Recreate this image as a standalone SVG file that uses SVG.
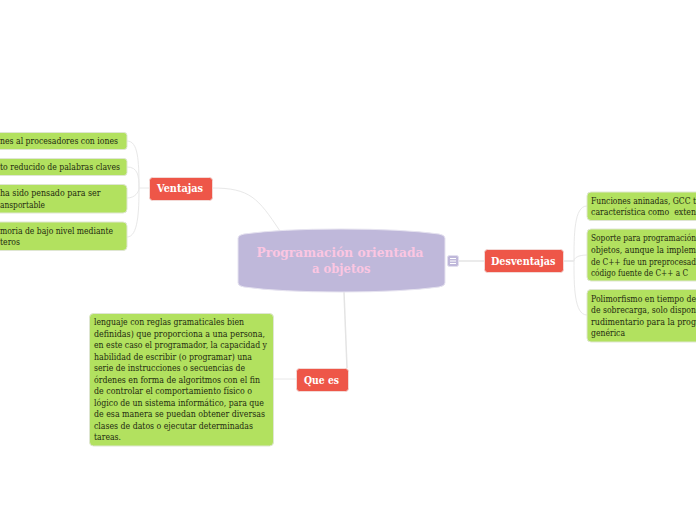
<svg xmlns="http://www.w3.org/2000/svg" width="696" height="520" viewBox="0 0 696 520">
<style>
.l{fill:#b2e15f;stroke:#dfe6d2;stroke-width:1}
.r{fill:#ee5648;stroke:#f3d9d6;stroke-width:1}
.t{font-family:"DejaVu Serif","Liberation Serif",serif;font-size:8.8px;fill:#1e2a10}
.h{font-family:"DejaVu Serif","Liberation Serif",serif;font-weight:700;font-size:10.5px;fill:#ffffff}
.c{font-family:"DejaVu Serif","Liberation Serif",serif;font-weight:700;font-size:12.5px;fill:#fbc6e2}
.k{fill:none;stroke:#e8e8e8;stroke-width:1}
.K{fill:none;stroke:#e4e4e4;stroke-width:1.5}
</style>
<rect width="696" height="520" fill="#ffffff"/>
<g id="connectors">
<path class="k" d="M212 188C250 188 258 198 280 231"/>
<path class="k" d="M149 188H139"/>
<path class="k" d="M139 188C139 160 138 141 127 141"/>
<path class="k" d="M139 188C139 176 138 167 127 167"/>
<path class="k" d="M139 188C139 192 135 198 127 198"/>
<path class="k" d="M139 188C139 212 138 237 127 237"/>
<path class="K" d="M459 261H484"/>
<path class="K" d="M564 261H574"/>
<path class="k" d="M574 261C574 235 574 206 587 206"/>
<path class="k" d="M574 261C574 258 578 255 587 255"/>
<path class="k" d="M574 261C574 285 574 315 587 315"/>
<path class="K" d="M344 292C345 320 346 345 347 368"/>
<path class="k" d="M273 379H297"/>
</g>
<g id="node-central">
<path d="M238 238Q238 235 244 234Q280 229 341 229Q402 229 439 234Q445 235 445 238V283Q445 286 439 287Q402 292 341 292Q280 292 244 287Q238 286 238 283Z" fill="#bfb8da" stroke="#e6e3f0" stroke-width="1"/>
<text class="c" x="256.5" y="257" textLength="167" lengthAdjust="spacingAndGlyphs">Programación orientada</text>
<text class="c" x="312" y="273" textLength="58.5" lengthAdjust="spacingAndGlyphs">a objetos</text>
</g>
<g id="node-toggle">
<rect x="447.500" y="255.500" width="11" height="11" rx="2" fill="#bfb8da" stroke="#e3e0ef"/>
<path d="M450 258.500H456M450 261H456M450 263.500H456" stroke="#ffffff" stroke-width="1" fill="none"/>
</g>
<g id="node-ventajas">
<rect class="r" x="149.500" y="177.500" width="63" height="23" rx="3"/>
<text class="h" x="157" y="192" textLength="46" lengthAdjust="spacingAndGlyphs">Ventajas</text>
</g>
<g id="node-desventajas">
<rect class="r" x="484.500" y="249.500" width="79" height="23" rx="3"/>
<text class="h" x="491" y="264.500" textLength="64.500" lengthAdjust="spacingAndGlyphs">Desventajas</text>
</g>
<g id="node-quees">
<rect class="r" x="296.500" y="368.500" width="52" height="23" rx="3"/>
<text class="h" x="304" y="383.500" textLength="35" lengthAdjust="spacingAndGlyphs">Que es</text>
</g>
<g id="node-v1">
<rect class="l" x="-20" y="132.500" width="147" height="17" rx="3"/>
<text class="t" x="0" y="144" textLength="118" lengthAdjust="spacingAndGlyphs">nes al procesadores con iones</text>
</g>
<g id="node-v2">
<rect class="l" x="-20" y="158.500" width="147" height="17" rx="3"/>
<text class="t" x="0" y="170" textLength="120" lengthAdjust="spacingAndGlyphs">to reducido de palabras claves</text>
</g>
<g id="node-v3">
<rect class="l" x="-20" y="184.500" width="147" height="28.500" rx="4"/>
<text class="t" x="0" y="196" textLength="100.500" lengthAdjust="spacingAndGlyphs">ha sido pensado para ser</text>
<text class="t" x="0" y="208" textLength="45" lengthAdjust="spacingAndGlyphs">ansportable</text>
</g>
<g id="node-v4">
<rect class="l" x="-20" y="222" width="147" height="28.500" rx="4"/>
<text class="t" x="0" y="234" textLength="113" lengthAdjust="spacingAndGlyphs">moria de bajo nivel mediante</text>
<text class="t" x="0" y="245" textLength="20" lengthAdjust="spacingAndGlyphs">teros</text>
</g>
<g id="node-d1">
<rect class="l" x="587" y="192" width="130" height="28.500" rx="4"/>
<text class="t" x="591" y="204" textLength="105" lengthAdjust="spacingAndGlyphs">Funciones aninadas, GCC t</text>
<text class="t" x="591" y="215" textLength="105" lengthAdjust="spacingAndGlyphs" xml:space="preserve">característica como  exten</text>
</g>
<g id="node-d2">
<rect class="l" x="587" y="229" width="130" height="52" rx="4"/>
<text class="t" x="591" y="241" textLength="105" lengthAdjust="spacingAndGlyphs">Soporte para programación</text>
<text class="t" x="591" y="253" textLength="105" lengthAdjust="spacingAndGlyphs">objetos, aunque la implem</text>
<text class="t" x="591" y="264.500" textLength="105" lengthAdjust="spacingAndGlyphs">de C++ fue un preprocesad</text>
<text class="t" x="591" y="276" textLength="97" lengthAdjust="spacingAndGlyphs">código fuente de C++ a C</text>
</g>
<g id="node-d3">
<rect class="l" x="587" y="289.500" width="130" height="52.500" rx="4"/>
<text class="t" x="591" y="301.500" textLength="105" lengthAdjust="spacingAndGlyphs">Polimorfismo en tiempo de</text>
<text class="t" x="591" y="313" textLength="105" lengthAdjust="spacingAndGlyphs">de sobrecarga, solo dispon</text>
<text class="t" x="591" y="324.500" textLength="105" lengthAdjust="spacingAndGlyphs">rudimentario para la prog</text>
<text class="t" x="591" y="336" textLength="34" lengthAdjust="spacingAndGlyphs">genérica</text>
</g>
<g id="node-q1">
<rect class="l" x="89.500" y="313.500" width="184" height="132.500" rx="4"/>
<text class="t" x="94" y="325" textLength="150" lengthAdjust="spacingAndGlyphs">lenguaje con reglas gramaticales bien</text>
<text class="t" x="94" y="336.500" textLength="171" lengthAdjust="spacingAndGlyphs">definidas) que proporciona a una persona,</text>
<text class="t" x="94" y="348" textLength="173" lengthAdjust="spacingAndGlyphs">en este caso el programador, la capacidad y</text>
<text class="t" x="94" y="359.500" textLength="158" lengthAdjust="spacingAndGlyphs">habilidad de escribir (o programar) una</text>
<text class="t" x="94" y="371" textLength="151" lengthAdjust="spacingAndGlyphs">serie de instrucciones o secuencias de</text>
<text class="t" x="94" y="382.500" textLength="166" lengthAdjust="spacingAndGlyphs">órdenes en forma de algoritmos con el fin</text>
<text class="t" x="94" y="394" textLength="158" lengthAdjust="spacingAndGlyphs">de controlar el comportamiento físico o</text>
<text class="t" x="94" y="405.500" textLength="170" lengthAdjust="spacingAndGlyphs">lógico de un sistema informático, para que</text>
<text class="t" x="94" y="417" textLength="171" lengthAdjust="spacingAndGlyphs">de esa manera se puedan obtener diversas</text>
<text class="t" x="94" y="428.500" textLength="159" lengthAdjust="spacingAndGlyphs">clases de datos o ejecutar determinadas</text>
<text class="t" x="94" y="440" textLength="27" lengthAdjust="spacingAndGlyphs">tareas.</text>
</g>
</svg>
